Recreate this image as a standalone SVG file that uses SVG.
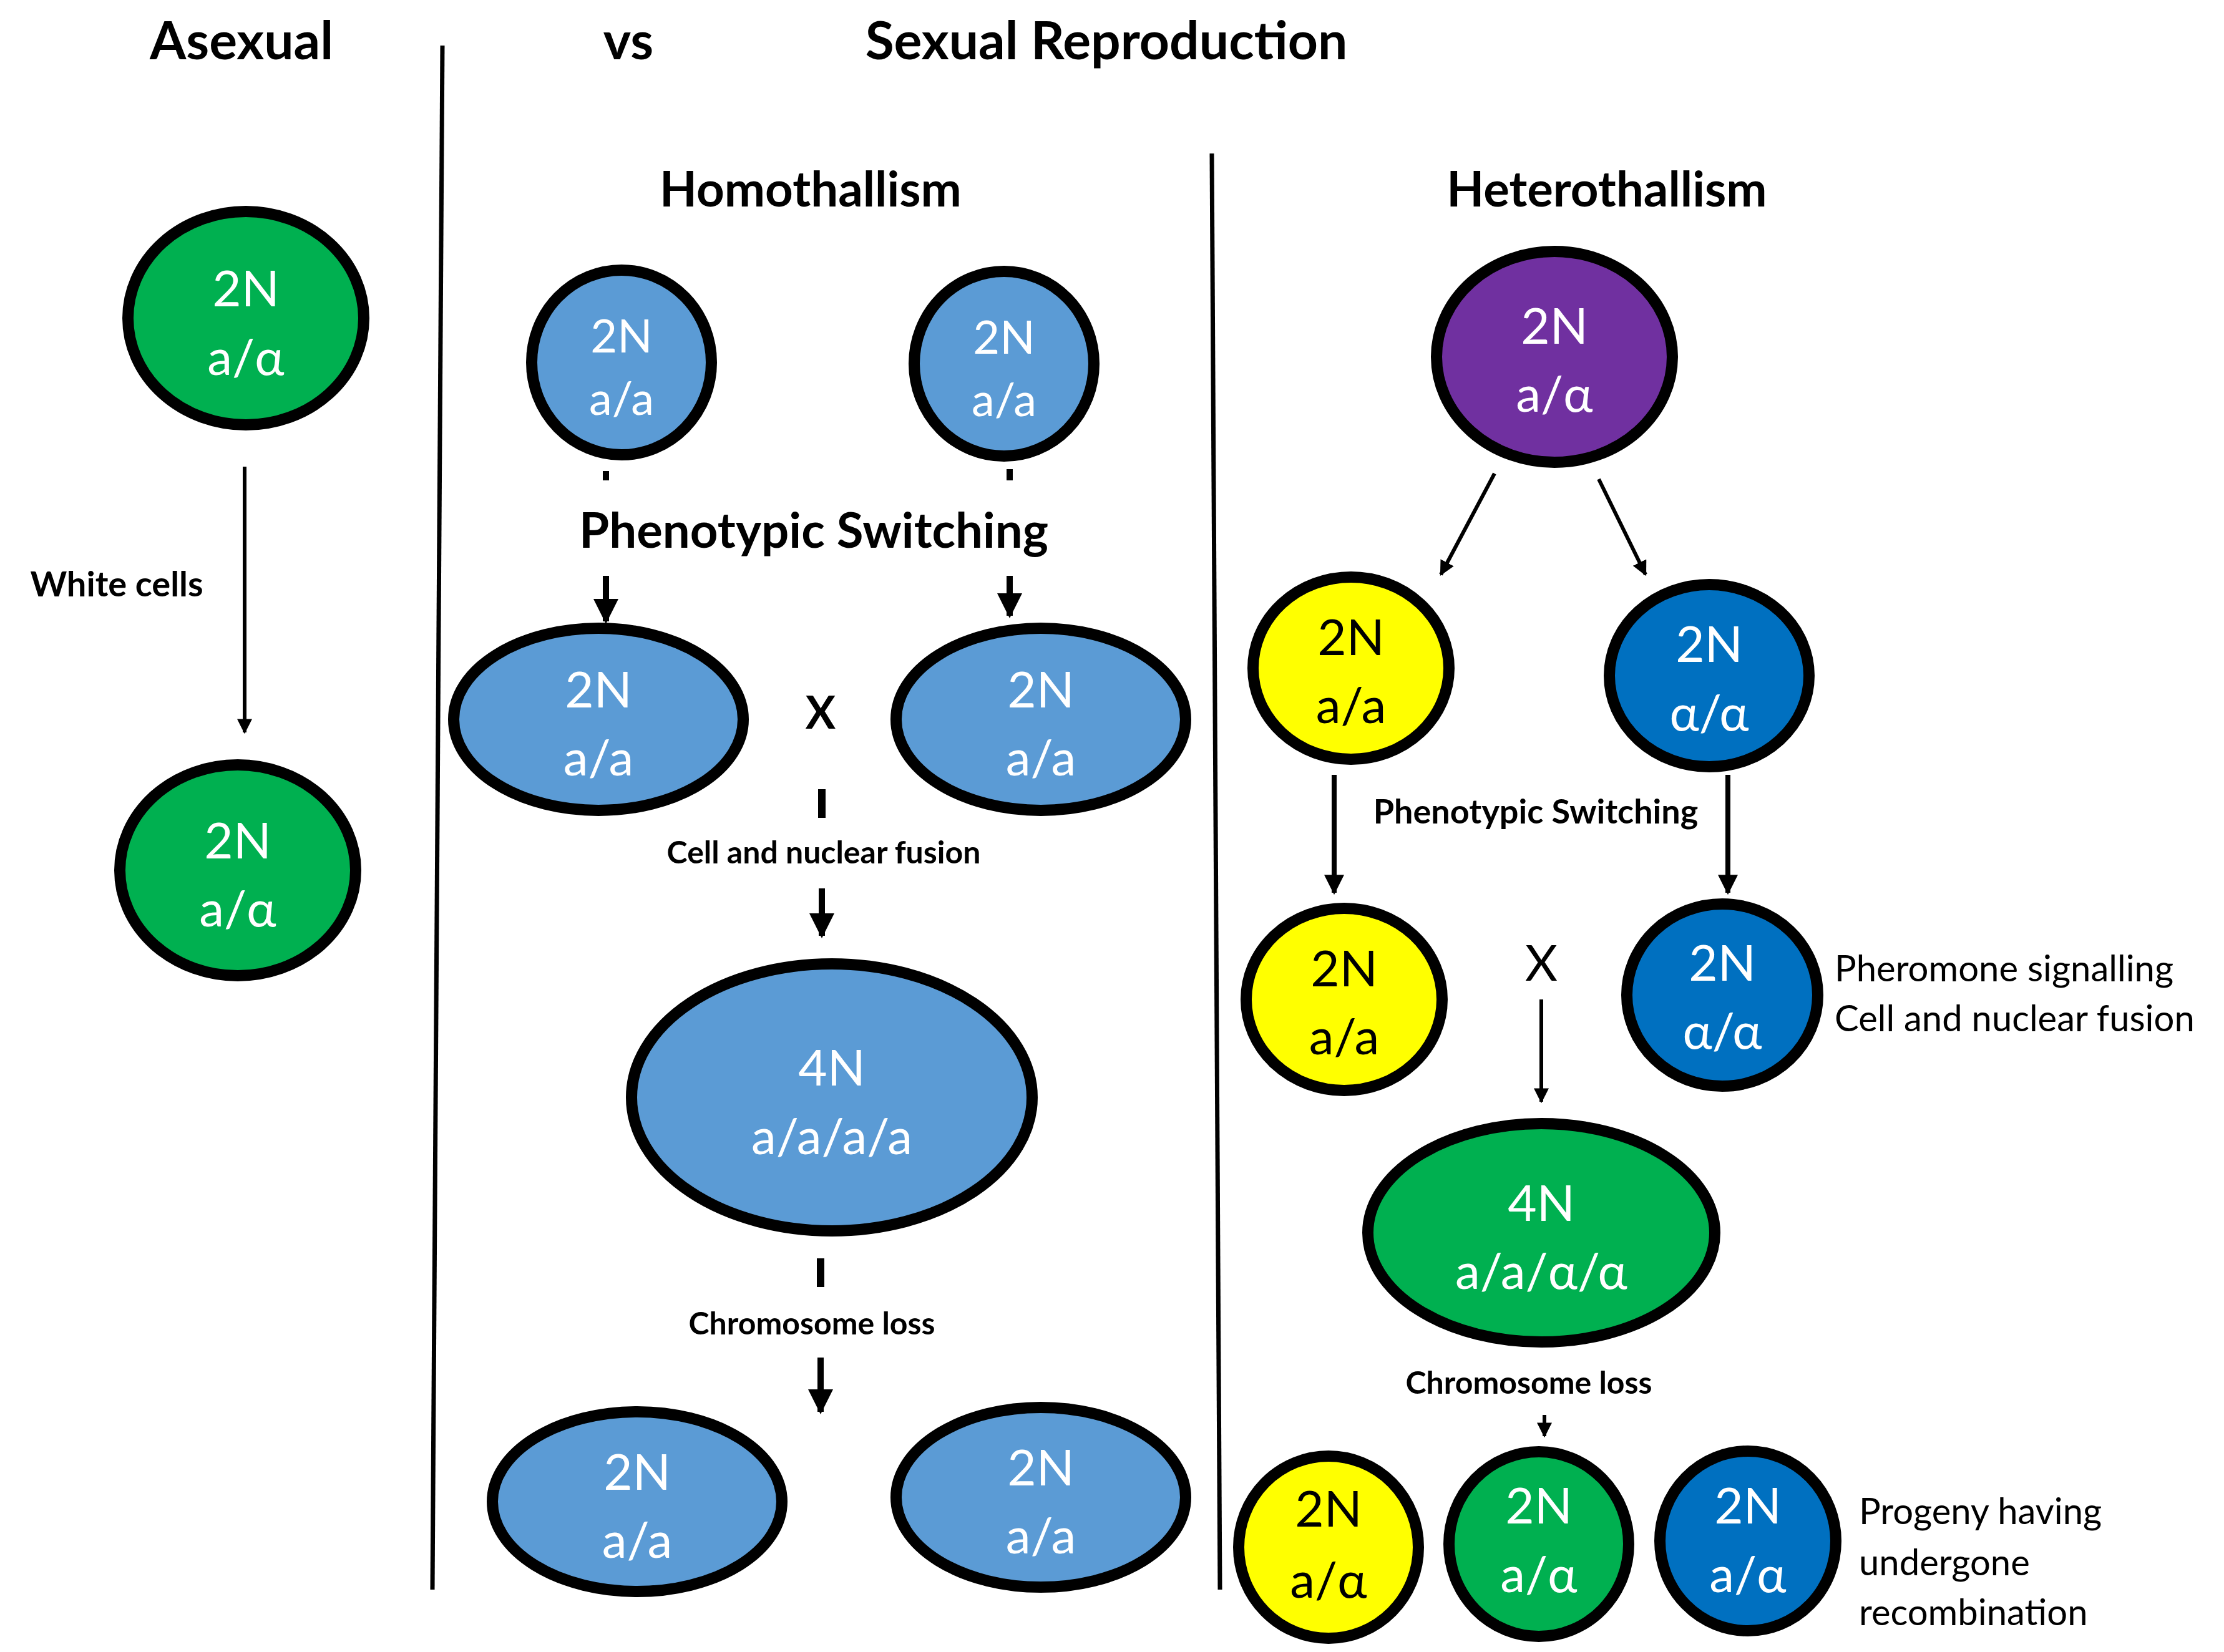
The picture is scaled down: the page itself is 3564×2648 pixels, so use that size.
<svg xmlns="http://www.w3.org/2000/svg" width="3564" height="2648" viewBox="0 0 3564 2648">
<defs>
<style>
text{font-family:Lato,"Open Sans","DejaVu Sans",sans-serif;dominant-baseline:central;text-anchor:middle}
.t{font-weight:bold;font-size:84px}
.h{font-weight:bold;font-size:78px}
.b{font-weight:bold;font-size:56px}
.s{font-weight:bold;font-size:50px}
.r{font-size:58px;text-anchor:start}
.c{stroke:#000;stroke-width:18}
.w{fill:#fff;font-size:80px}
.k{fill:#000;font-size:80px}
.g{fill:#00B050}.lb{fill:#5B9BD5}.db{fill:#0070C0}.y{fill:#FFFF00}.p{fill:#7030A0}
.ln{stroke:#000;fill:none}
</style>
<marker id="a" viewBox="0 0 10 10" refX="9" refY="5" markerWidth="6" markerHeight="6" markerUnits="userSpaceOnUse" orient="auto"><path d="M0,0L10,5L0,10z"/></marker>
<marker id="at" viewBox="0 0 10 10" refX="9" refY="5" markerWidth="4" markerHeight="4" orient="auto"><path d="M0,0L10,5L0,10z"/></marker>
</defs>
<g id="titles">
<text class="t" x="387" y="62">Asexual</text>
<text class="t" x="1007" y="62">vs</text>
<text class="t" x="1773" y="62">Sexual Reproduction</text>
<text class="h" x="1299" y="301">Homothallism</text>
<text class="h" x="2575" y="301">Heterothallism</text>
<line class="ln" x1="709" y1="73" x2="693" y2="2548" stroke-width="7"/>
<line class="ln" x1="1942" y1="246" x2="1955" y2="2548" stroke-width="7"/>
</g>
<g id="connectors">
<line class="ln" x1="392" y1="748" x2="392" y2="1174" stroke-width="6" marker-end="url(#at)"/>
<line class="ln" x1="971" y1="755" x2="971" y2="770" stroke-width="10"/>
<line class="ln" x1="1618" y1="752" x2="1618" y2="770" stroke-width="10"/>
<line class="ln" x1="971" y1="923" x2="971" y2="996" stroke-width="10" marker-end="url(#at)"/>
<line class="ln" x1="1618" y1="923" x2="1618" y2="987" stroke-width="10" marker-end="url(#at)"/>
<line class="ln" x1="1317" y1="1265" x2="1317" y2="1311" stroke-width="12"/>
<line class="ln" x1="1317" y1="1424" x2="1317" y2="1500" stroke-width="10" marker-end="url(#at)"/>
<line class="ln" x1="1315" y1="2017" x2="1315" y2="2063" stroke-width="12"/>
<line class="ln" x1="1315" y1="2176" x2="1315" y2="2263" stroke-width="10" marker-end="url(#at)"/>
<line class="ln" x1="2395" y1="759" x2="2309" y2="921" stroke-width="6" marker-end="url(#at)"/>
<line class="ln" x1="2562" y1="768" x2="2637" y2="921" stroke-width="6" marker-end="url(#at)"/>
<line class="ln" x1="2138" y1="1242" x2="2138" y2="1431" stroke-width="8" marker-end="url(#at)"/>
<line class="ln" x1="2769" y1="1242" x2="2769" y2="1431" stroke-width="8" marker-end="url(#at)"/>
<line class="ln" x1="2470" y1="1602" x2="2470" y2="1766" stroke-width="6" marker-end="url(#at)"/>
<line class="ln" x1="2475" y1="2268" x2="2475" y2="2302" stroke-width="6" marker-end="url(#at)"/>
</g>
<g id="labels">
<text class="b" x="187" y="934">White cells</text>
<text class="h" x="1304" y="848">Phenotypic Switching</text>
<text class="t" x="1315" y="1140" style="font-size:72px">X</text>
<text class="s" x="1320" y="1365">Cell and nuclear fusion</text>
<text class="s" x="1301" y="2120">Chromosome loss</text>
<text class="s" x="2461" y="1299" style="font-size:54px">Phenotypic Switching</text>
<text x="2470" y="1541" style="font-size:80px">X</text>
<text class="r" x="2940" y="1550">Pheromone signalling</text>
<text class="r" x="2940" y="1630">Cell and nuclear fusion</text>
<text class="s" x="2450" y="2215">Chromosome loss</text>
<text class="r" x="2979" y="2420">Progeny having</text>
<text class="r" x="2979" y="2502">undergone</text>
<text class="r" x="2979" y="2582">recombination</text>
</g>
<g id="asex1"><ellipse class="c g" cx="394" cy="510" rx="189" ry="171"/><text class="w" x="394" y="460">2N</text><text class="w" x="394" y="570">a/α</text></g>
<g id="asex2"><ellipse class="c g" cx="381" cy="1395" rx="189" ry="169"/><text class="w" x="381" y="1345">2N</text><text class="w" x="381" y="1454">a/α</text></g>
<g id="homo1"><ellipse class="c lb" cx="996" cy="581" rx="144" ry="148"/><text class="w" x="996" y="536" style="font-size:74px">2N</text><text class="w" x="996" y="636" style="font-size:74px">a/a</text></g>
<g id="homo2"><ellipse class="c lb" cx="1609" cy="583" rx="144" ry="148"/><text class="w" x="1609" y="538" style="font-size:74px">2N</text><text class="w" x="1609" y="638" style="font-size:74px">a/a</text></g>
<g id="homo3"><ellipse class="c lb" cx="959" cy="1153" rx="232" ry="146"/><text class="w" x="959" y="1103">2N</text><text class="w" x="959" y="1212">a/a</text></g>
<g id="homo4"><ellipse class="c lb" cx="1668" cy="1153" rx="232" ry="146"/><text class="w" x="1668" y="1103">2N</text><text class="w" x="1668" y="1212">a/a</text></g>
<g id="homo5"><ellipse class="c lb" cx="1333" cy="1759" rx="321" ry="214"/><text class="w" x="1333" y="1709">4N</text><text class="w" x="1333" y="1819">a/a/a/a</text></g>
<g id="homo6"><ellipse class="c lb" cx="1021" cy="2407" rx="232" ry="144"/><text class="w" x="1021" y="2357">2N</text><text class="w" x="1021" y="2466">a/a</text></g>
<g id="homo7"><ellipse class="c lb" cx="1668" cy="2400" rx="232" ry="144"/><text class="w" x="1668" y="2350">2N</text><text class="w" x="1668" y="2459">a/a</text></g>
<g id="het1"><ellipse class="c p" cx="2491" cy="572" rx="189" ry="169"/><text class="w" x="2491" y="520">2N</text><text class="w" x="2491" y="629">a/α</text></g>
<g id="het2"><ellipse class="c y" cx="2165" cy="1071" rx="157" ry="146"/><text class="k" x="2165" y="1019">2N</text><text class="k" x="2165" y="1128">a/a</text></g>
<g id="het3"><ellipse class="c db" cx="2739" cy="1083" rx="160" ry="146"/><text class="w" x="2739" y="1030">2N</text><text class="w" x="2739" y="1140">α/α</text></g>
<g id="het4"><ellipse class="c y" cx="2154" cy="1602" rx="157" ry="146"/><text class="k" x="2154" y="1550">2N</text><text class="k" x="2154" y="1659">a/a</text></g>
<g id="het5"><ellipse class="c db" cx="2760" cy="1595" rx="153" ry="146"/><text class="w" x="2760" y="1541">2N</text><text class="w" x="2760" y="1650">α/α</text></g>
<g id="het6"><ellipse class="c g" cx="2470" cy="1976" rx="278" ry="175"/><text class="w" x="2470" y="1926">4N</text><text class="w" x="2470" y="2035">a/a/α/α</text></g>
<g id="het7"><ellipse class="c y" cx="2129" cy="2480" rx="144" ry="146"/><text class="k" x="2129" y="2416">2N</text><text class="k" x="2129" y="2530">a/α</text></g>
<g id="het8"><ellipse class="c g" cx="2466" cy="2475" rx="144" ry="148"/><text class="w" x="2466" y="2411">2N</text><text class="w" x="2466" y="2521">a/α</text></g>
<g id="het9"><ellipse class="c db" cx="2801" cy="2470" rx="141" ry="144"/><text class="w" x="2801" y="2411">2N</text><text class="w" x="2801" y="2521">a/α</text></g>
</svg>
